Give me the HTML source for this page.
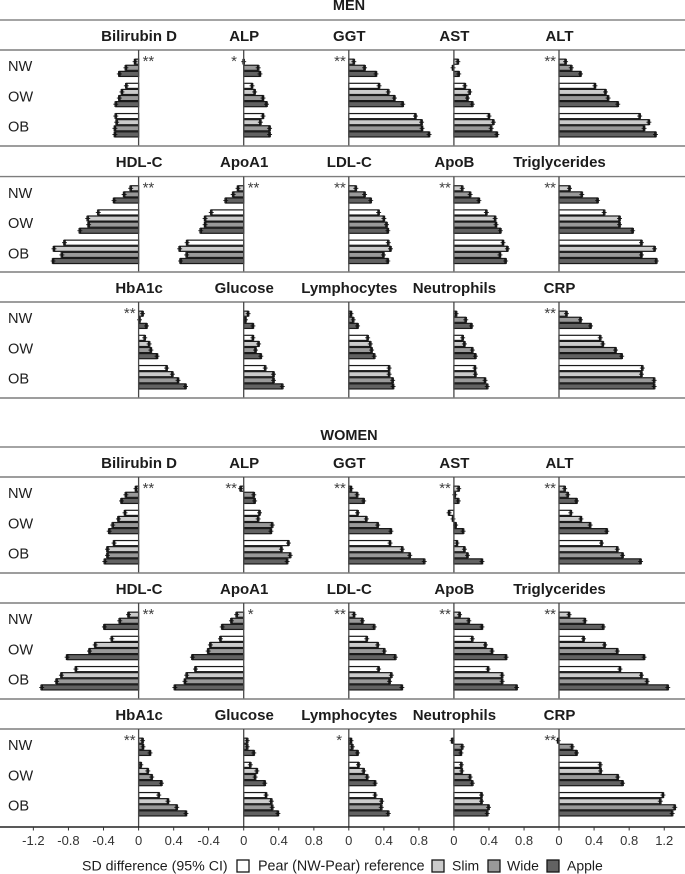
<!DOCTYPE html>
<html lang="en">
<head>
<meta charset="utf-8">
<title>SD difference by BMI and body shape</title>
<style>
html,body{margin:0;padding:0;background:#fff;}
svg{display:block;font-family:"Liberation Sans",Arial,sans-serif;}
</style>
</head>
<body>
<svg id="chart" width="685" height="874" viewBox="0 0 685 874" xmlns="http://www.w3.org/2000/svg"></svg>
<script>
// Order within each array: NW (pear, slim, wide, apple), OW (...), OB (...)
const menBilirubinD = [null,-0.04,-0.145,-0.22,-0.14,-0.19,-0.22,-0.26,-0.26,-0.25,-0.27,-0.27];
const menALP = [null,0.0,0.165,0.185,0.095,0.125,0.22,0.26,0.22,0.19,0.295,0.295];
const menGGT = [null,0.057,0.18,0.31,0.345,0.45,0.52,0.615,0.76,0.83,0.835,0.915];
const menAST = [null,0.045,-0.01,0.055,0.125,0.18,0.155,0.21,0.40,0.45,0.425,0.49];
const menALT = [null,0.075,0.14,0.245,0.41,0.53,0.56,0.67,0.92,1.025,0.97,1.10];
const menHDL = [null,-0.09,-0.165,-0.28,-0.46,-0.58,-0.57,-0.67,-0.845,-0.965,-0.875,-0.975];
const menApoA1 = [null,-0.065,-0.12,-0.205,-0.37,-0.44,-0.44,-0.49,-0.645,-0.73,-0.65,-0.72];
const menLDL = [null,0.08,0.18,0.25,0.34,0.40,0.43,0.445,0.45,0.475,0.395,0.445];
const menApoB = [null,0.095,0.185,0.285,0.37,0.47,0.48,0.53,0.56,0.61,0.525,0.59];
const menTriglycerides = [null,0.12,0.26,0.44,0.515,0.69,0.69,0.84,0.94,1.09,0.94,1.11];
const menHbA1c = [null,0.045,0.01,0.09,0.07,0.12,0.14,0.21,0.32,0.385,0.45,0.535];
const menGlucose = [null,0.05,0.02,0.105,0.105,0.17,0.135,0.195,0.245,0.34,0.34,0.44];
const menLymphocytes = [null,0.025,0.05,0.10,0.215,0.245,0.26,0.29,0.46,0.46,0.50,0.505];
const menNeutrophils = [null,0.025,0.135,0.20,0.10,0.12,0.21,0.245,0.24,0.245,0.355,0.38];
const menCRP = [null,0.085,0.245,0.36,0.47,0.50,0.645,0.715,0.95,0.94,1.085,1.085];

const womenBilirubinD = [null,-0.03,-0.145,-0.195,-0.155,-0.23,-0.295,-0.335,-0.28,-0.355,-0.355,-0.385];
const womenALP = [null,-0.035,0.115,0.125,0.18,0.165,0.325,0.31,0.51,0.43,0.53,0.495];
const womenGGT = [null,0.025,0.095,0.17,0.10,0.20,0.33,0.48,0.47,0.61,0.695,0.86];
const womenAST = [null,0.055,0.01,0.05,-0.055,-0.01,0.02,0.105,0.035,0.12,0.155,0.32];
const womenALT = [null,0.065,0.10,0.20,0.135,0.25,0.355,0.545,0.485,0.665,0.725,0.93];
const womenHDL = [null,-0.115,-0.215,-0.39,-0.305,-0.495,-0.56,-0.815,-0.715,-0.88,-0.935,-1.105];
const womenApoA1 = [null,-0.08,-0.14,-0.245,-0.265,-0.38,-0.405,-0.585,-0.55,-0.65,-0.67,-0.785];
const womenLDL = [null,0.06,0.155,0.29,0.205,0.33,0.405,0.53,0.34,0.485,0.465,0.605];
const womenApoB = [null,0.065,0.17,0.32,0.21,0.36,0.435,0.595,0.39,0.55,0.55,0.715];
const womenTriglycerides = [null,0.115,0.295,0.505,0.28,0.52,0.665,0.97,0.695,0.94,1.005,1.24];
const womenHbA1c = [null,0.045,0.05,0.13,0.025,0.105,0.15,0.26,0.23,0.335,0.435,0.54];
const womenGlucose = [null,0.04,0.04,0.115,0.075,0.15,0.13,0.24,0.255,0.315,0.325,0.39];
const womenLymphocytes = [null,0.025,0.04,0.10,0.11,0.17,0.21,0.30,0.30,0.375,0.37,0.45];
const womenNeutrophils = [null,-0.02,0.095,0.08,0.085,0.09,0.185,0.21,0.315,0.315,0.395,0.38];
const womenCRP = [null,-0.01,0.15,0.20,0.47,0.475,0.67,0.725,1.185,1.155,1.32,1.29];

const groupLabels = ["NW","OW","OB"];
const seriesNames = ["Pear","Slim","Wide","Apple"];
const ciHalfWidth = 0.01;

const menCharts = [
  ["Bilirubin D",menBilirubinD,"**","R"],["ALP",menALP,"*","LL"],["GGT",menGGT,"**","L"],["AST",menAST,"",""],["ALT",menALT,"**","L"],
  ["HDL-C",menHDL,"**","R"],["ApoA1",menApoA1,"**","R"],["LDL-C",menLDL,"**","L"],["ApoB",menApoB,"**","L"],["Triglycerides",menTriglycerides,"**","L"],
  ["HbA1c",menHbA1c,"**","L"],["Glucose",menGlucose,"",""],["Lymphocytes",menLymphocytes,"",""],["Neutrophils",menNeutrophils,"",""],["CRP",menCRP,"**","L"]
];
const womenCharts = [
  ["Bilirubin D",womenBilirubinD,"**","R"],["ALP",womenALP,"**","LL"],["GGT",womenGGT,"**","L"],["AST",womenAST,"**","L"],["ALT",womenALT,"**","L"],
  ["HDL-C",womenHDL,"**","R"],["ApoA1",womenApoA1,"*","R"],["LDL-C",womenLDL,"**","L"],["ApoB",womenApoB,"**","L"],["Triglycerides",womenTriglycerides,"**","L"],
  ["HbA1c",womenHbA1c,"**","L"],["Glucose",womenGlucose,"",""],["Lymphocytes",womenLymphocytes,"*","LL"],["Neutrophils",womenNeutrophils,"",""],["CRP",womenCRP,"**","L"]
];
const tickValues = [
  [-1.2,-0.8,-0.4,0,0.4],
  [-0.4,0,0.4,0.8],
  [0,0.4,0.8],
  [0,0.4,0.8],
  [0,0.4,0.8,1.2]
];

const NS = "http://www.w3.org/2000/svg";
const svg = document.getElementById("chart");
const ZERO0 = 138.6, COLSTEP = 105.1, PXPERUNIT = 87.7;
const fills = ["#ffffff","#cbcbcb","#999999","#626262"];
const TXT = "#1c1c1c";

function xScale(col, v){ return ZERO0 + col*COLSTEP + v*PXPERUNIT; }
function yScale(top, g, s){ return top + 5.6 + g*30.25 + s*6.1; }

function mk(tag, attrs, parent){
  const el = document.createElementNS(NS, tag);
  for (const k in attrs) el.setAttribute(k, attrs[k]);
  (parent || svg).appendChild(el);
  return el;
}
function rule(y, color, w, name){
  const el = mk("line",{x1:0,x2:685,y1:y,y2:y,stroke:color,"stroke-width":w});
  
  
}
function text(x, y, str, size, weight, anchor, name, parent, fill){
  const el = mk("text",{x:x,y:y,"font-size":size,"font-weight":weight,"text-anchor":anchor,fill:fill||TXT},parent);
  el.textContent = str;
  
  
  return el;
}
function drawPanelRow(charts, start, top, bottom, titleBaseline, prefix){
  rule(top, "#7d7d7d", 1.4, prefix + "-header-rule");
  groupLabels.forEach((lab, g) => {
    text(8, top + 21.2 + g*30.25, lab, 14.6, "normal", "start", prefix + "-row-label-" + lab.toLowerCase());
  });
  for (let col = 0; col < 5; col++){
    const c = charts[start + col];
    const slug = prefix + "-" + c[0].toLowerCase().replace(/[^a-z0-9]+/g, "-");
    const gEl = mk("g", {});
    
    
    const x0 = xScale(col, 0);
    text(x0 + 0.5, titleBaseline, c[0], 15, "bold", "middle", slug + "-title", gEl);
    c[1].forEach((v, i) => {
      if (v === null) return;
      const g = Math.floor(i / 4), s = i % 4;
      const cy = yScale(top, g, s), xv = xScale(col, v);
      const bar = mk("rect", {x:Math.min(x0, xv), y:cy - 2.55, width:Math.abs(xv - x0), height:5.1,
        fill:fills[s], stroke:"#1a1a1a", "stroke-width":1.2}, gEl);
      
      
      const lo = xScale(col, v - ciHalfWidth), hi = xScale(col, v + ciHalfWidth);
      const err = mk("path", {d:"M"+(lo-1.6)+" "+cy+"H"+(hi+1.6)+"M"+lo+" "+(cy-2.8)+"V"+(cy+2.8)+"M"+hi+" "+(cy-2.8)+"V"+(cy+2.8),
        fill:"none", stroke:"#111", "stroke-width":0.85}, gEl);
      
      
    });
    const axis = mk("line", {x1:x0, x2:x0, y1:top, y2:bottom, stroke:"#484848", "stroke-width":1.3}, gEl);
    
    
    if (c[2]){
      const sx = c[3] === "R" ? x0 + 4 : (c[3] === "LL" ? x0 - 6.7 : x0 - 3);
      text(sx, top + 15.8, c[2], 15, "normal", c[3] === "R" ? "start" : "end", slug + "-significance", gEl, "#404040");
    }
  }
}

text(349, 10, "MEN", 14.5, "bold", "middle", "men-section-title");
rule(20, "#858585", 1.4, "men-top-rule");
drawPanelRow(menCharts, 0, 50, 146, 41, "men");
rule(146, "#7d7d7d", 1.4, "men-row1-bottom-rule");
drawPanelRow(menCharts, 5, 176.6, 272, 167, "men");
rule(272, "#7d7d7d", 1.4, "men-row2-bottom-rule");
drawPanelRow(menCharts, 10, 302, 398, 293, "men");
rule(398, "#7d7d7d", 1.4, "men-row3-bottom-rule");

text(349, 440, "WOMEN", 14.5, "bold", "middle", "women-section-title");
rule(447, "#858585", 1.4, "women-top-rule");
drawPanelRow(womenCharts, 0, 477, 573, 468, "women");
rule(573, "#7d7d7d", 1.4, "women-row1-bottom-rule");
drawPanelRow(womenCharts, 5, 603, 699, 594, "women");
rule(699, "#7d7d7d", 1.4, "women-row2-bottom-rule");
drawPanelRow(womenCharts, 10, 729, 827, 720, "women");
rule(827, "#222222", 1.5, "x-axis-line");

tickValues.forEach((vals, col) => {
  vals.forEach(v => {
    const x = xScale(col, v);
    const t = mk("line", {x1:x, x2:x, y1:827, y2:830.5, stroke:"#333", "stroke-width":1});
    
    
    text(x, 845, v === 0 ? "0" : v.toFixed(1), 13, "normal", "middle", "x-axis-tick-label", svg, "#333");
  });
});

text(82, 870.5, "SD difference (95% CI)", 14.2, "normal", "start", "x-axis-title");
const legendEntries = ["Pear (NW-Pear) reference","Slim","Wide","Apple"];
const legendBoxX = [237,432,488,547];
const legendTextX = [258,452,507,567];
legendEntries.forEach((label, i) => {
  const g = mk("g", {});
  
  
  mk("rect", {x:legendBoxX[i], y:860, width:12, height:12, fill:fills[i], stroke:"#161616", "stroke-width":1.3}, g);
  text(legendTextX[i], 870.5, label, i === 0 ? 14.3 : 14, "normal", "start", "legend-label-" + seriesNames[i].toLowerCase(), g);
});
</script>
</body>
</html>
